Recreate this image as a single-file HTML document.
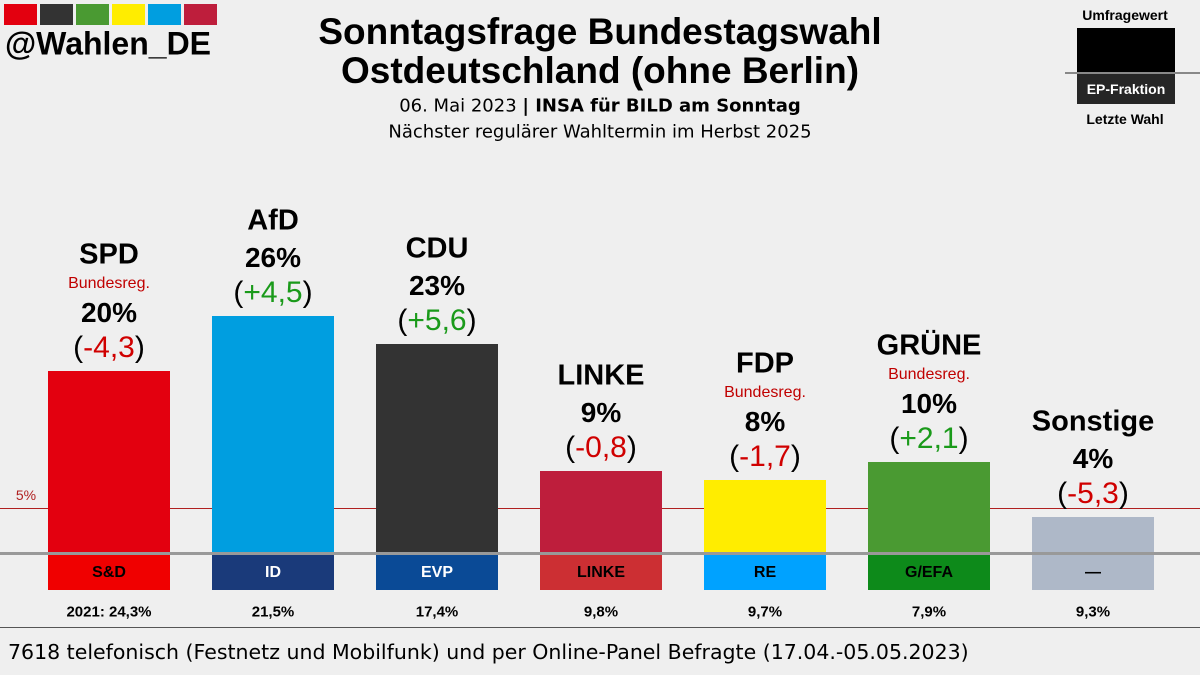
<!DOCTYPE html>
<html><head><meta charset="utf-8"><style>
body{margin:0;width:1200px;height:675px;background:#efefef;font-family:"Liberation Sans",sans-serif;overflow:hidden;position:relative}
.t{position:absolute;white-space:nowrap;transform:translate(-50%,-50%)}
</style></head><body>
<div style="position:absolute;left:4px;top:4px">
<svg width="220" height="22"><rect x="0" y="0" width="33" height="21" fill="#e3000f"/><rect x="36" y="0" width="33" height="21" fill="#333"/><rect x="72" y="0" width="33" height="21" fill="#4a9a32"/><rect x="108" y="0" width="33" height="21" fill="#ffed00"/><rect x="144" y="0" width="33" height="21" fill="#009ee0"/><rect x="180" y="0" width="33" height="21" fill="#be1e3c"/></svg></div>
<div class="t" style="left:108px;top:44px;font-size:32px;font-weight:bold">@Wahlen_DE</div>
<div class="t" style="left:600px;top:32px;font-size:37px;font-weight:bold">Sonntagsfrage Bundestagswahl</div>
<div class="t" style="left:600px;top:71px;font-size:37px;font-weight:bold">Ostdeutschland (ohne Berlin)</div>
<div class="t" style="left:600px;top:106px;font-size:18px;font-family:'DejaVu Sans',sans-serif">06. Mai 2023 <b>| INSA für BILD am Sonntag</b></div>
<div class="t" style="left:600px;top:132px;font-size:18px;font-family:'DejaVu Sans',sans-serif">Nächster regulärer Wahltermin im Herbst 2025</div>
<div>
<div class="t" style="left:1125px;top:15px;font-size:14px;font-weight:bold">Umfragewert</div>
<div style="position:absolute;left:1077px;top:28px;width:98px;height:45px;background:#000"></div>
<div style="position:absolute;left:1065px;top:72px;width:135px;height:2px;background:#888"></div>
<div style="position:absolute;left:1077px;top:74px;width:98px;height:30px;background:#262626"></div>
<div class="t" style="left:1126px;top:89px;font-size:14px;font-weight:bold;color:#fff">EP-Fraktion</div>
<div class="t" style="left:1125px;top:119px;font-size:14px;font-weight:bold">Letzte Wahl</div>
</div>
<div id="chart"></div>
<div style="position:absolute;left:0;top:627px;width:1200px;height:1px;background:#555"></div>
<div style="position:absolute;left:8px;top:640px;font-size:20.5px;white-space:nowrap;font-family:'DejaVu Sans',sans-serif">7618 telefonisch (Festnetz und Mobilfunk) und per Online-Panel Befragte (17.04.-05.05.2023)</div>
<script>
const parties=["SPD","AfD","CDU","LINKE","FDP","GRÜNE","Sonstige"];
const values=[20,26,23,9,8,10,4];
const changes=["-4,3","+4,5","+5,6","-0,8","-1,7","+2,1","-5,3"];
const govt=[true,false,false,false,true,true,false];
const groups=["S&D","ID","EVP","LINKE","RE","G/EFA","—"];
const lastVote=["2021: 24,3%","21,5%","17,4%","9,8%","9,7%","7,9%","9,3%"];
const colors=["#e3000f","#009ee0","#333333","#be1e3c","#ffed00","#4a9a32","#aeb8c8"];
const gcolors=["#f00000","#1a3a7a","#0a4a96","#cc2f33","#00a2ff","#0d8a1a","#aeb8c8"];
const base=553,ppu=9.1,x0=48,step=164,bw=122;
const y=v=>base-v*ppu;
const c=document.getElementById('chart');
function add(html,name){const d=document.createElement('div');d.innerHTML=html;const e=d.firstChild;


c.appendChild(e);return e;}
add(`<div style="position:absolute;left:0;top:${y(5)}px;width:1200px;height:1px;background:#b02020"></div>`,'threshold-line');
add(`<div class="t" style="left:26px;top:${y(5)-13}px;font-size:14px;color:#b02020">5%</div>`,'threshold-label');
parties.forEach((p,i)=>{
const x=x0+i*step,cx=x+bw/2,top=y(values[i]);
add(`<div style="position:absolute;left:${x}px;top:${top}px;width:${bw}px;height:${base-top}px;background:${colors[i]}"></div>`,'bar-'+p.toLowerCase());
add(`<div style="position:absolute;left:${x}px;top:${base}px;width:${bw}px;height:37px;background:${gcolors[i]}"></div>`,'group-box');
add(`<div class="t" style="left:${cx}px;top:${base+20}px;font-size:16px;font-weight:bold;color:${i==1||i==2?'#fff':'#000'}">${groups[i].replace('&','&amp;')}</div>`,'group-label');
add(`<div class="t" style="left:${cx}px;top:${base+59}px;font-size:15px;font-weight:bold">${lastVote[i]}</div>`,'last-vote');
const col=changes[i][0]=='+'?'#1a9a1a':'#d00000';
add(`<div class="t" style="left:${cx}px;top:${top-23}px;font-size:30px">(<span style="color:${col}">${changes[i]}</span>)</div>`,'change-label');
add(`<div class="t" style="left:${cx}px;top:${top-58}px;font-size:28px;font-weight:bold">${values[i]}%</div>`,'value-label');
if(govt[i]){add(`<div class="t" style="left:${cx}px;top:${top-87}px;font-size:16px;color:#c00000">Bundesreg.</div>`,'govt-label');
add(`<div class="t" style="left:${cx}px;top:${top-116}px;font-size:29px;font-weight:bold">${p}</div>`,'party-name');}
else add(`<div class="t" style="left:${cx}px;top:${top-95}px;font-size:29px;font-weight:bold">${p}</div>`,'party-name');
});
add(`<div style="position:absolute;left:0;top:${base-1}px;width:1200px;height:3px;background:#999"></div>`,'baseline');
</script>
</body></html>
